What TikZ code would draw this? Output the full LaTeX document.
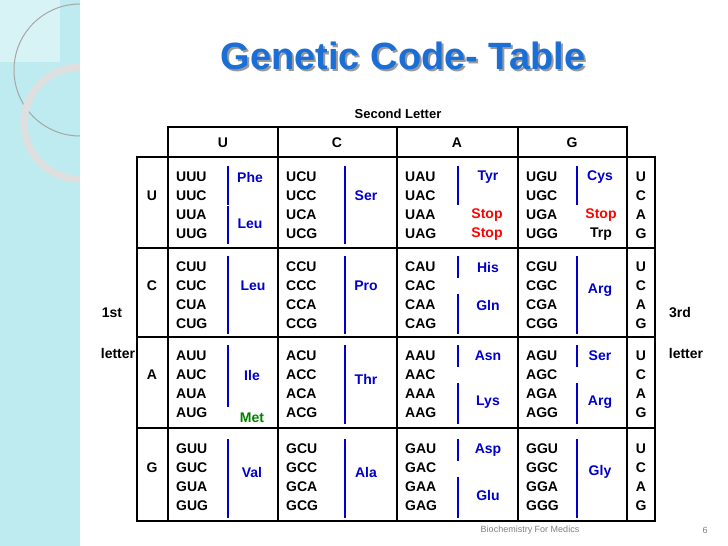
\documentclass[tikz,border=0pt]{standalone}
\usepackage{fontspec}
\setmainfont{Liberation Sans}
\begin{document}
\begin{tikzpicture}[x=1pt,y=-1pt,
  cod/.style={font=\fontsize{14}{15}\selectfont\bfseries,anchor=west,inner sep=0pt},
  aa/.style={font=\fontsize{14}{15}\selectfont\bfseries,text=blue!80!black,inner sep=0pt},
  stp/.style={aa,text=red},
  bar/.style={draw=blue!80!black,line width=2.4pt},
  lab/.style={font=\fontsize{14}{15}\selectfont\bfseries,inner sep=0pt}]
\definecolor{panel}{HTML}{BDEBF0}
\definecolor{ttl}{HTML}{1A6FD6}
\useasboundingbox (0,0) rectangle (728,546);
\fill[white] (0,0) rectangle (728,546);
\fill[panel] (0,0) rectangle (80,546);
\draw[white,line width=1pt] (81,0) -- (81,546);
\fill[panel!60!white] (0,0) rectangle (60,62);
\begin{scope}
\clip (0,0) rectangle (80,546);
\draw[gray!70,line width=1pt] (80,70) circle (66);
\draw[gray!25,line width=7pt] (80,123) circle (56);
\end{scope}
\node[font=\fontsize{38}{40}\selectfont\bfseries,text=black!40] at (405,58) {Genetic Code- Table};
\node[font=\fontsize{38}{40}\selectfont\bfseries,text=ttl] (title) at (403,56) {Genetic Code- Table};
\node[font=\fontsize{13}{14}\selectfont\bfseries] (sec) at (398,114) {Second Letter};
% grid
\draw[line width=1.4pt] (168,127) rectangle (627,157);
\foreach \x in {278,397,518} \draw[line width=1.4pt] (\x,127) -- (\x,521);
\draw[line width=1.4pt] (137,157) rectangle (655,521);
\foreach \x in {168,627} \draw[line width=1.4pt] (\x,157) -- (\x,521);
\foreach \y in {248,337,428} \draw[line width=1.4pt] (137,\y) -- (655,\y);
% headers
\foreach \l/\x in {U/223,C/337,A/457,G/572} \node[lab] (h\l) at (\x,143) {\l};
\foreach \l/\y in {U/196,C/286,A/375,G/468} {
  \node[lab] (r\l) at (152,\y) {\l};
  \foreach \t/\d in {U/-19,C/0,A/19,G/38} \node[lab] (t\l\t) at (641,\y+\d-0.5) {\t};
}
\node[lab] (n1) at (112,313) {1st};
\node[lab] (n2) at (118,353) {letter};
\node[lab] (n3) at (680,313) {3rd};
\node[lab] (n4) at (686,353) {letter};
% codons
\foreach \f/\yb in {U/177,C/267,A/356,G/449} {
 \foreach \s/\xc in {U/176,C/286,A/405,G/526} {
  \foreach \t [count=\i from 0] in {U,C,A,G}
   \node[cod] (c\f\s\t) at (\xc,\yb+19*\i) {\f\s\t};
 }}
% bars
\foreach \x/\a/\b in {228/166/205, 228/206/244, 345/166/244, 458/166/205, 577/166/205,
  228/256/334, 345/256/334, 458/256/278, 458/294/334, 577/256/334,
  228/345/407, 345/345/424, 458/345/367, 458/383/424, 577/345/367, 577/383/424,
  228/439/518, 345/439/518, 458/439/461, 458/477/518, 577/439/518}
  \draw[bar] (\x,\a) -- (\x,\b);
% amino acids
\node[aa] (a1) at (250,177) {Phe};
\node[aa] (a2) at (250,224) {Leu};
\node[aa] (a3) at (366,196) {Ser};
\node[aa] (a4) at (488,177) {Tyr};
\node[stp] (a5) at (487,215) {Stop};
\node[stp] (a6) at (487,234) {Stop};
\node[aa] (a7) at (600,177) {Cys};
\node[stp] (a8) at (601,215) {Stop};
\node[lab] (a9) at (601,234) {Trp};
\node[aa] (b1) at (253,286) {Leu};
\node[aa] (b2) at (366,286) {Pro};
\node[aa] (b3) at (488,267) {His};
\node[aa] (b4) at (488,305) {Gln};
\node[aa] (b5) at (600,290) {Arg};
\node[aa] (c1) at (252,375) {Ile};
\node[aa,text=green!50!black] (c2) at (252,418) {Met};
\node[aa] (c3) at (366,379) {Thr};
\node[aa] (c4) at (488,356) {Asn};
\node[aa] (c5) at (488,402) {Lys};
\node[aa] (c6) at (600,356) {Ser};
\node[aa] (c7) at (600,402) {Arg};
\node[aa] (d1) at (252,472) {Val};
\node[aa] (d2) at (366,472) {Ala};
\node[aa] (d3) at (488,450) {Asp};
\node[aa] (d4) at (488,495) {Glu};
\node[aa] (d5) at (600,472) {Gly};
\node[font=\fontsize{9}{10}\selectfont,text=gray] (foot) at (530,530) {Biochemistry For Medics};
\node[font=\fontsize{9}{10}\selectfont,text=gray] (pg) at (705,530) {6};
\end{tikzpicture}
\end{document}
